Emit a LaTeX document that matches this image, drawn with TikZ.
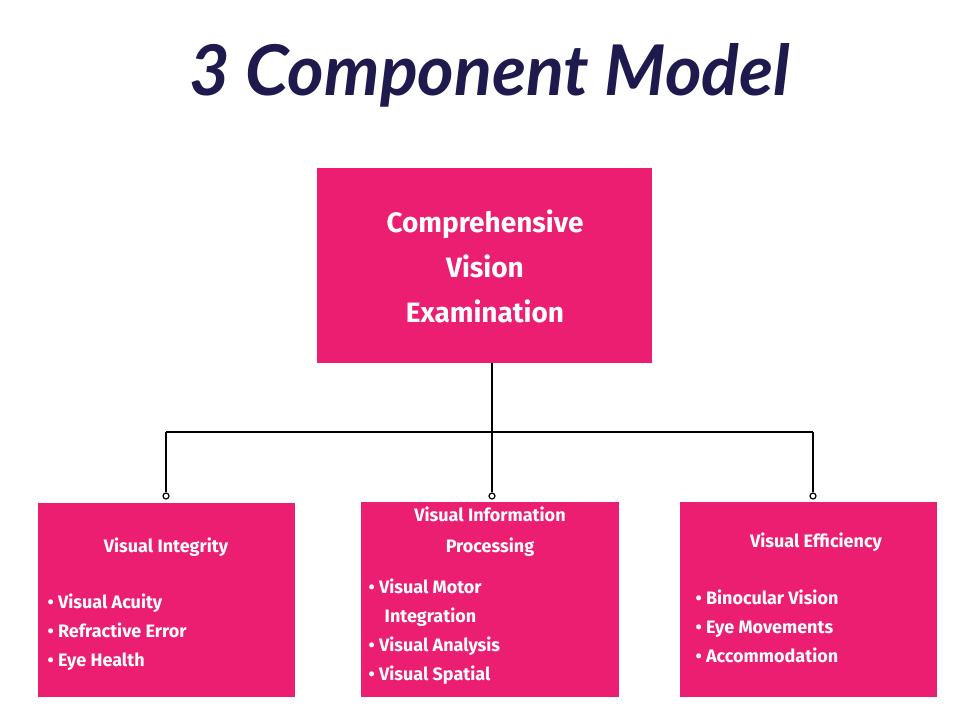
\documentclass[tikz,border=0pt]{standalone}
\usepackage{fontspec}
\setmainfont{Fira Sans}
\newfontfamily\titlefont{Lato}
\definecolor{pinkbox}{HTML}{EC1E72}
\definecolor{navy}{HTML}{1E1A4D}
\begin{document}
\begin{tikzpicture}[x=1pt,y=-1pt,
  box/.style={fill=pinkbox,draw=none,text=white},
  btxt/.style={text=white,font=\fontsize{18}{29}\selectfont\bfseries,align=left,anchor=north west},
  conn/.style={draw=black,line width=1.6pt},
  endc/.style={circle,draw=black,fill=white,line width=1.2pt,inner sep=0pt,minimum size=6pt}]
\useasboundingbox (0,0) rectangle (980,726);
\fill[white] (0,0) rectangle (980,726);
\node[text=navy,font=\titlefont\fontsize{70}{80}\selectfont\bfseries\itshape] (title) at (490,75) {3 Component Model};
\fill[box] (317,168) rectangle (652,363);
\node[text=white,align=center,font=\fontsize{28}{45}\selectfont\bfseries] (top) at (485,266) {Comprehensive\\Vision\\Examination};
\coordinate (tb) at (492,363);
\fill[box] (38,503) rectangle (295,697);
\fill[box] (361,502) rectangle (619,697);
\fill[box] (680,502) rectangle (937,697);
\coordinate (j) at (492,432);
\coordinate (jl) at (166,432);
\coordinate (jr) at (813,432);
\node[endc] (cl) at (166,496) {};
\node[endc] (cm) at (492,496) {};
\node[endc] (cr) at (813,496) {};
\draw[conn] (tb) -- (j);
\draw[conn] (jl) -- (jr);
\draw[conn] (jl) -- (cl);
\draw[conn] (j) -- (cm);
\draw[conn] (jr) -- (cr);
\node[text=white,font=\fontsize{18}{29}\selectfont\bfseries] (h1) at (166,547) {Visual Integrity};
\node[btxt] (l1) at (44,590) {• Visual Acuity\\• Refractive Error\\• Eye Health};
\node[text=white,align=center,font=\fontsize{18}{31}\selectfont\bfseries] (h2) at (490,532) {Visual Information\\Processing};
\node[btxt] (l2) at (365,575) {• Visual Motor\\\hspace{0.9em}Integration\\• Visual Analysis\\• Visual Spatial};
\node[text=white,font=\fontsize{18}{29}\selectfont\bfseries] (h3) at (816,542) {Visual Efficiency};
\node[btxt] (l3) at (692,586) {• Binocular Vision\\• Eye Movements\\• Accommodation};
\end{tikzpicture}
\end{document}
